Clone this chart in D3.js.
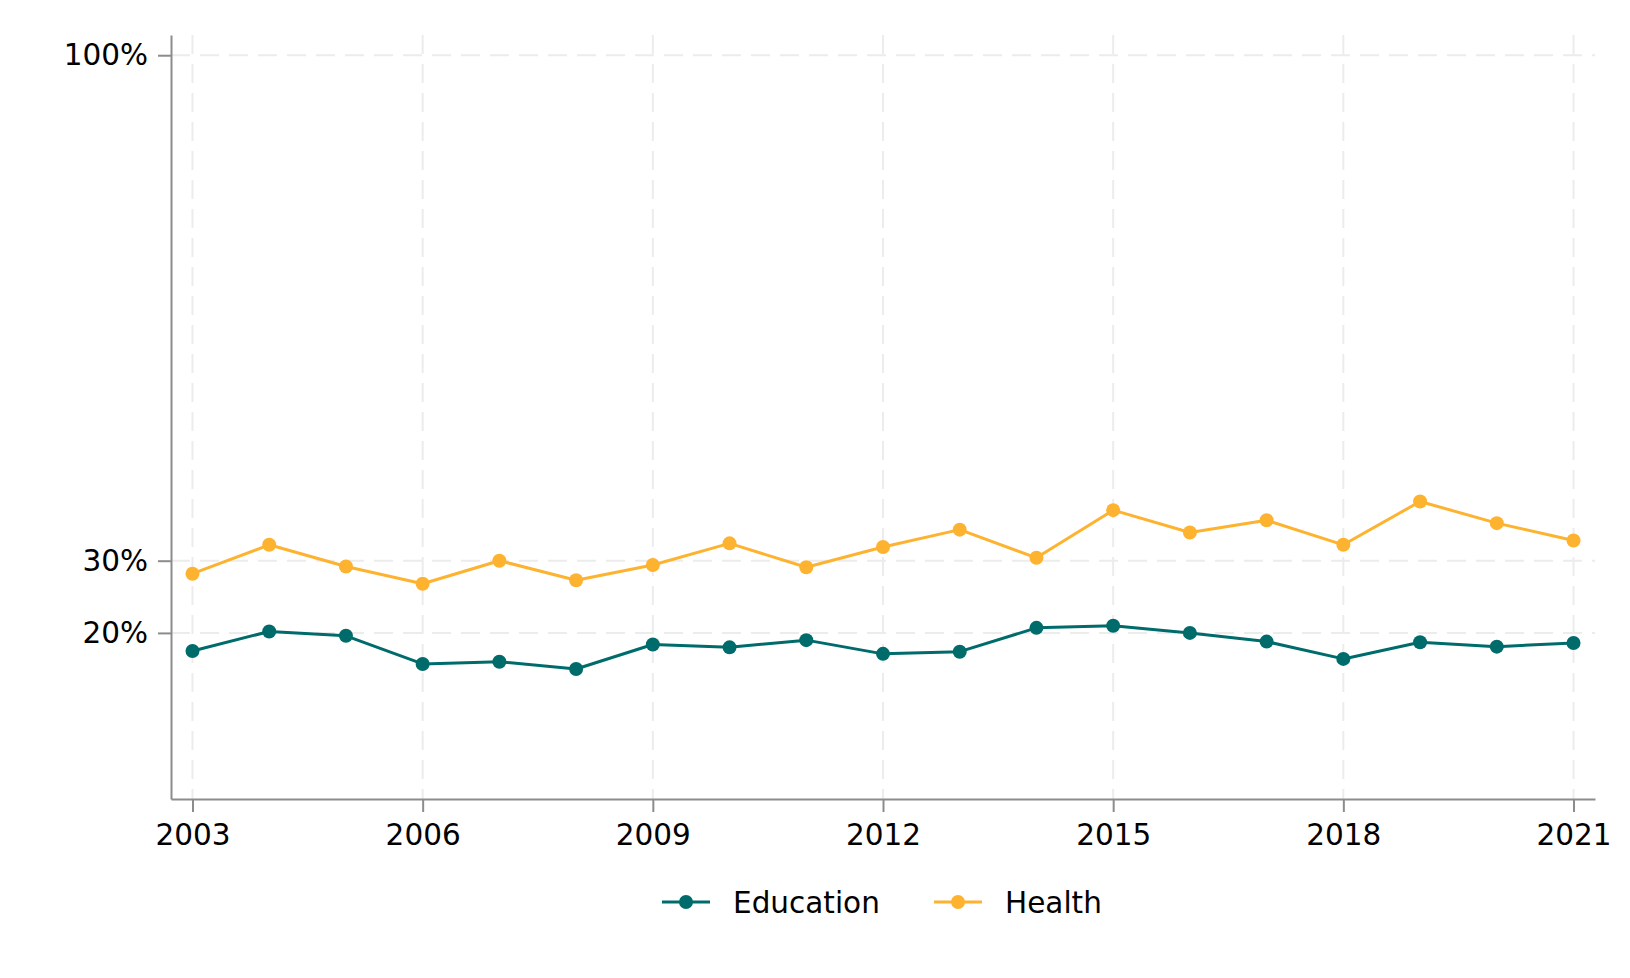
<!DOCTYPE html>
<html>
<head>
<meta charset="utf-8">
<script src="https://cdn.jsdelivr.net/npm/d3@7"></script>
<style>
	body { margin: 0; background: #fff; }
	svg text { font-family: "DejaVu Sans", Verdana, sans-serif; fill: #000; }
</style>
</head>
<body>
<svg id="chart" width="1630" height="978"></svg>
<script>
// Data (share in %)
const years = [2003, 2004, 2005, 2006, 2007, 2008, 2009, 2010, 2011, 2012,
               2013, 2014, 2015, 2016, 2017, 2018, 2019, 2020, 2021];
const education = [17.5, 20.2, 19.6, 15.7, 16.0, 15.0, 18.4, 18.0, 19.0, 17.1,
                   17.4, 20.7, 21.0, 20.0, 18.8, 16.4, 18.7, 18.1, 18.6];
const health = [28.2, 32.2, 29.2, 26.8, 30.0, 27.3, 29.4, 32.4, 29.1, 31.9,
                34.3, 30.4, 37.0, 33.9, 35.6, 32.2, 38.2, 35.2, 32.8];
const xTicks = [2003, 2006, 2009, 2012, 2015, 2018, 2021];
const yTicks = [20, 30, 100];
const seriesNames = ["Education", "Health"];
const seriesColors = ["#006b6b", "#fdb32f"];

function whenDocumentLoaded(action) {
	if (document.readyState === "loading") {
		document.addEventListener("DOMContentLoaded", action);
	} else {
		action();
	}
}

whenDocumentLoaded(() => {
	const svg = d3.select("#chart");
	const left = 171, right = 1595, top = 35, bottom = 799;

	const x = d3.scaleLinear().domain([2002.72, 2021.28]).range([left, right]);
	const y = d3.scaleLinear().domain([-3, 102.8]).range([bottom, top]);

	// grid
	const grid = svg.append("g").attr("stroke", "#ececec").attr("stroke-width", 2)
		.attr("stroke-dasharray", "19,10");
	grid.selectAll(".gy").data(yTicks).join("line")
		.attr("x1", left).attr("x2", right)
		.attr("y1", d => y(d)).attr("y2", d => y(d));
	grid.selectAll(".gx").data(xTicks).join("line")
		.attr("x1", d => x(d)).attr("x2", d => x(d))
		.attr("y1", top).attr("y2", bottom);

	// axes
	const xAxis = svg.append("g").attr("transform", `translate(0,${bottom})`)
		.call(d3.axisBottom(x).tickValues(xTicks).tickFormat(d3.format("d"))
			.tickSizeInner(13).tickSizeOuter(0).tickPadding(12));
	const yAxis = svg.append("g").attr("transform", `translate(${left},0)`)
		.call(d3.axisLeft(y).tickValues(yTicks).tickFormat(d => d + "%")
			.tickSizeInner(13).tickSizeOuter(0).tickPadding(10));
	[xAxis, yAxis].forEach(a => {
		a.select(".domain").attr("stroke", "#8c8c8c").attr("stroke-width", 2);
		a.selectAll(".tick line").attr("stroke", "#8c8c8c").attr("stroke-width", 2);
		a.selectAll(".tick text").attr("font-size", 29.5)
			.attr("font-family", "'DejaVu Sans', Verdana, sans-serif").attr("fill", "#000");
	});

	// series
	const series = [education, health];
	const line = d3.line().x((d, i) => x(years[i])).y(d => y(d));
	series.forEach((vals, k) => {
		svg.append("path").datum(vals)
			.attr("fill", "none").attr("stroke", seriesColors[k])
			.attr("stroke-width", 3).attr("stroke-linejoin", "round")
			.attr("d", line);
		svg.append("g").selectAll("circle").data(vals).join("circle")
			.attr("cx", (d, i) => x(years[i])).attr("cy", d => y(d))
			.attr("r", 7).attr("fill", seriesColors[k]);
	});

	// legend
	const legendX = [662, 934];
	const legend = svg.append("g");
	seriesNames.forEach((name, k) => {
		const g = legend.append("g").attr("transform", `translate(${legendX[k]},902)`);
		g.append("line").attr("x1", 0).attr("x2", 48)
			.attr("stroke", seriesColors[k]).attr("stroke-width", 3);
		g.append("circle").attr("cx", 24).attr("r", 7).attr("fill", seriesColors[k]);
		g.append("text").attr("x", 71).attr("y", 11).attr("font-size", 29.5).text(name);
	});
});
</script>
</body>
</html>
